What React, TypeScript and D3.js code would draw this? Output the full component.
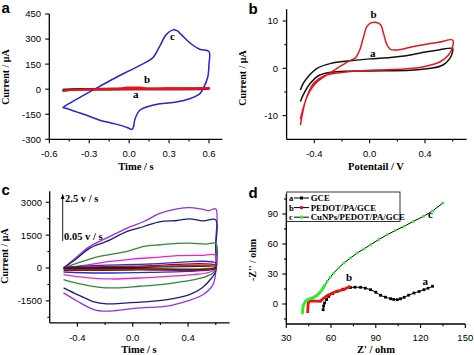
import React from "react";
import * as d3 from "d3";

type P = [number, number];

// Panel a: CV of modified electrodes
const curveA_c: P[] = [
  [-0.5, -110], [-0.42, -72], [-0.35, -40], [-0.26, 0], [-0.12, 61], [0, 110], [0.1, 150], [0.18, 190],
  [0.23, 258], [0.28, 328], [0.33, 355], [0.36, 350], [0.39, 328], [0.455, 278], [0.53, 239], [0.6, 225],
  [0.6, 150], [0.59, 70], [0.555, 2], [0.53, -28], [0.455, -57], [0.355, -77], [0.23, -87], [0.13, -107],
  [0.08, -126], [0.045, -176], [0.03, -232], [0.02, -241], [-0.01, -231], [-0.045, -221], [-0.12, -205],
  [-0.22, -186], [-0.32, -156], [-0.395, -136], [-0.47, -116], [-0.5, -110],
];

// Panel b: CV of GCE (a) and PEDOT/PA/GCE (b)
const curveB_b: P[] = [
  [-0.5, -12], [-0.485, -9.5], [-0.465, -7], [-0.435, -5], [-0.395, -3.3], [-0.33, -1.8], [-0.24, -0.1],
  [-0.18, 1], [-0.13, 1.8], [-0.1, 2.3], [-0.07, 4], [-0.045, 6.5], [-0.02, 8.8], [0.01, 9.6], [0.05, 9.7],
  [0.08, 9.2], [0.1, 7.4], [0.125, 5], [0.15, 4], [0.2, 3.9], [0.3, 4.5], [0.39, 5.0], [0.5, 5.5], [0.6, 6.0],
  [0.6, 4.6], [0.57, 2.8], [0.51, 1.4], [0.39, 0.35], [0.25, -0.15], [0.05, -0.35], [-0.12, -0.6],
  [-0.24, -1.0], [-0.33, -1.6], [-0.4, -3.0], [-0.44, -5.0], [-0.47, -7.5], [-0.49, -9.5], [-0.5, -10.8],
];
const curveB_a: P[] = [
  [-0.5, -4.6], [-0.48, -3.2], [-0.44, -1.6], [-0.38, 0], [-0.28, 1.05], [-0.14, 1.6], [0, 2.0], [0.15, 2.3],
  [0.25, 2.6], [0.39, 3.4], [0.5, 3.9], [0.6, 4.2], [0.6, 3.6], [0.58, 2.1], [0.53, 0.7], [0.44, 0],
  [0.3, -0.4], [0, -0.55], [-0.24, -0.7], [-0.36, -1.4], [-0.43, -3.2], [-0.48, -5.6], [-0.5, -7],
];

// Panel c: scan rates 0.05 - 2.5 V/s
const cv250: P[] = [
  [-0.5, 0], [-0.4, 530], [-0.31, 985], [-0.19, 1364], [-0.04, 1818], [0.08, 2121], [0.2, 2500], [0.32, 2697],
  [0.41, 2758], [0.49, 2697], [0.55, 2621], [0.6, 2697], [0.6, 1200], [0.6, -150], [0.58, -758], [0.51, -1212],
  [0.39, -1515], [0.25, -1742], [0.05, -1818], [-0.12, -1939], [-0.19, -1970], [-0.28, -1894], [-0.4, -1515],
  [-0.5, -1136],
];
const cv200: P[] = [
  [-0.5, 0], [-0.4, 455], [-0.31, 909], [-0.19, 1212], [-0.04, 1667], [0.08, 1894], [0.2, 2121], [0.32, 2167],
  [0.41, 2242], [0.51, 2152], [0.6, 2197], [0.6, 1000], [0.6, -150], [0.57, -455], [0.5, -909], [0.41, -1212],
  [0.25, -1439], [0.08, -1545], [-0.04, -1591], [-0.19, -1636], [-0.28, -1545], [-0.4, -1212], [-0.5, -909],
];
const cv100: P[] = [
  [-0.5, 0], [-0.4, 227], [-0.24, 530], [-0.04, 758], [0.08, 985], [0.2, 1061], [0.32, 1121], [0.41, 1136],
  [0.53, 1091], [0.6, 1121], [0.6, 0], [0.58, -227], [0.5, -455], [0.37, -606], [0.2, -758], [0.05, -833],
  [-0.12, -909], [-0.24, -879], [-0.4, -700], [-0.5, -530],
];
const cv050: P[] = [
  [-0.5, 0], [-0.35, 121], [-0.16, 303], [0, 409], [0.17, 485], [0.32, 561], [0.49, 576], [0.6, 576],
  [0.6, 0], [0.56, -182], [0.44, -303], [0.25, -379], [0.05, -455], [-0.16, -500], [-0.35, -424], [-0.5, -303],
];
const cv020: P[] = [
  [-0.5, 30], [-0.24, 121], [0.125, 182], [0.6, 227], [0.6, 0], [0.49, -121], [0.125, -197], [-0.24, -227],
  [-0.5, -182],
];
const cv010: P[] = [[-0.5, 20], [0, 80], [0.6, 120], [0.6, 0], [0, -90], [-0.5, -110]];
const cv005: P[] = [[-0.5, 10], [0, 45], [0.6, 65], [0.6, 0], [0, -55], [-0.5, -65]];
const cv002: P[] = [[-0.5, 5], [0, 20], [0.6, 30], [0.6, 0], [0, -25], [-0.5, -30]];

// Panel d: Nyquist plots
const eisGCE: P[] = [
  [54.7, -5.7], [55, -2], [55.6, 1], [57, 4.5], [58.5, 7.7], [61, 10.5], [64, 12.7], [68, 14.8], [73, 16.5],
  [76, 16.8], [79.8, 16.7], [83, 15.8], [86.5, 14.3], [90, 11.8], [93.2, 8.7], [96.5, 6.8], [100, 5.3],
  [102, 4.6], [104.4, 4.3], [106.5, 5.2], [109, 6.7], [112, 8.8], [115.6, 11], [119, 12.5], [122.3, 14.3],
  [125, 15.8], [128, 17.7],
];
const eisPEDOT: P[] = [
  [44.3, -9], [44.5, -4], [44.6, -0.7], [45, 2.7], [47, 3], [50, 2.8], [52.9, 2.7], [54, 4.5], [55.2, 6],
  [56.8, 7.8], [58.5, 9.3], [61, 11], [64, 12.7], [66, 13.5], [68.5, 14.3], [70.5, 16], [73, 17.7],
];
const eisCu: P[] = [
  [40.9, -9], [41.2, -3], [41.7, -0.7], [42.8, 2.7], [44, 4], [46.1, 5.3], [48.5, 6.8], [50.6, 8.7],
  [52.5, 11.5], [54, 14.3], [55.7, 18.5], [57.4, 22.7], [59.5, 26.8], [61.8, 31], [65, 36], [68.6, 41],
  [73, 46], [77.5, 51], [82, 55], [86.5, 59.3], [92, 64.5], [97.7, 69.3], [103, 73.5], [109, 77.7],
  [115, 82.5], [122, 87.7], [128, 93], [135, 101],
];
const legendLabels = ["GCE", "PEDOT/PA/GCE", "CuNPs/PEDOT/PA/GCE"];
const legendKeys = ["a", "b", "c"];

const sans = "'Liberation Sans', Arial, sans-serif";
const serif = "'Liberation Serif', 'Times New Roman', serif";

type Lin = d3.ScaleLinear<number, number>;

function Axes(props: {
  x: Lin; y: Lin; xMajor: number[]; xMinor: number[]; yMajor: number[]; yMinor: number[];
  xf: (v: number) => string; yf: (v: number) => string; xLabY: number; yLabX: number;
}) {
  const { x, y, xMajor, xMinor, yMajor, yMinor, xf, yf, xLabY, yLabX } = props;
  const [x0, x1] = x.range();
  const [y0, y1] = y.range();
  return (
    <g>
      <line x1={x0} x2={x1} y1={y0} y2={y0} stroke="#000" strokeWidth={1.3} />
      <line x1={x0} x2={x0} y1={y0} y2={y1} stroke="#000" strokeWidth={1.3} />
      {xMajor.map((v) => (
        <g key={"xm" + v}>
          <line x1={x(v)} x2={x(v)} y1={y0} y2={y0 + 4} stroke="#000" strokeWidth={1.1} />
          <text x={x(v)} y={xLabY} textAnchor="middle" fontFamily={sans} fontSize={9.5}>{xf(v)}</text>
        </g>
      ))}
      {xMinor.map((v) => (
        <line key={"xn" + v} x1={x(v)} x2={x(v)} y1={y0} y2={y0 + 2.3} stroke="#000" strokeWidth={1.1} />
      ))}
      {yMajor.map((v) => (
        <g key={"ym" + v}>
          <line x1={x0} x2={x0 - 4} y1={y(v)} y2={y(v)} stroke="#000" strokeWidth={1.1} />
          <text x={yLabX} y={y(v) + 3.4} textAnchor="end" fontFamily={sans} fontSize={9.5}>{yf(v)}</text>
        </g>
      ))}
      {yMinor.map((v) => (
        <line key={"yn" + v} x1={x0} x2={x0 - 2.3} y1={y(v)} y2={y(v)} stroke="#000" strokeWidth={1.1} />
      ))}
    </g>
  );
}

function path(x: Lin, y: Lin, d: P[]) {
  return d3.line<P>().x((p) => x(p[0])).y((p) => y(p[1])).curve(d3.curveCatmullRom.alpha(0.5))(d) || "";
}

function YTitle({ x, y, text }: { x: number; y: number; text: string }) {
  return (
    <text transform={`translate(${x},${y}) rotate(-90)`} textAnchor="middle" fontFamily={serif}
      fontWeight="bold" fontSize={10}>{text}</text>
  );
}
function XTitle({ x, y, text }: { x: number; y: number; text: string }) {
  return (
    <text x={x} y={y} textAnchor="middle" fontFamily={serif} fontWeight="bold" fontSize={10.5}>{text}</text>
  );
}
function Lbl({ x, y, t }: { x: number; y: number; t: string }) {
  return <text x={x} y={y} fontFamily={serif} fontWeight="bold" fontSize={11}>{t}</text>;
}

export default function App() {
  const f1 = (v: number) => v.toFixed(1);
  const f0 = (v: number) => String(v);

  const xa = d3.scaleLinear().domain([-0.6, 0.7]).range([49.3, 222.3]);
  const ya = d3.scaleLinear().domain([-300, 450]).range([139.3, 14]);
  const xb = d3.scaleLinear().domain([-0.6, 0.7]).range([286.6, 466.5]);
  const yb = d3.scaleLinear().domain([-15, 12.5]).range([139.3, 9.2]);
  const xc = d3.scaleLinear().domain([-0.6, 0.7]).range([49.7, 229.6]);
  const yc = d3.scaleLinear().domain([-2500, 3500]).range([322.8, 191.3]);
  const xd = d3.scaleLinear().domain([30, 150]).range([286.3, 465.3]);
  const yd = d3.scaleLinear().domain([-20, 110]).range([324, 194]);

  const cSeries: [P[], string, number][] = [
    [cv002, "#222222", 1.2],
    [cv005, "#e01a1a", 1.3],
    [cv010, "#8b1010", 1.3],
    [cv020, "#2a2ad8", 1.4],
    [cv050, "#ee22cc", 1.3],
    [cv100, "#2e8b2e", 1.3],
    [cv200, "#1a1a80", 1.3],
    [cv250, "#9a2ee6", 1.3],
  ];

  const lineD = d3.line<P>().x((p) => xd(p[0])).y((p) => yd(p[1]));
  const cuLow = eisCu.filter((p) => p[0] < 56);

  return (
    <svg width={474} height={355} style={{ position: "absolute", left: 0, top: 0, background: "#fff" }}>
      <rect width={474} height={355} fill="#fff" />
      {/* Panel a */}
      <text x={1.5} y={12.5} fontFamily={sans} fontWeight="bold" fontSize={15}>a</text>
      <Axes x={xa} y={ya} xMajor={[-0.6, -0.3, 0, 0.3, 0.6]} xMinor={[-0.45, -0.15, 0.15, 0.45]}
        yMajor={[-300, -150, 0, 150, 300, 450]} yMinor={[]} xf={f1} yf={f0} xLabY={156.7} yLabX={41} />
      <path d={path(xa, ya, curveA_c)} fill="none" stroke="#2424d6" strokeWidth={1.5} />
      <path d={path(xa, ya, curveB_a)} fill="none" stroke="#111" strokeWidth={2.2} />
      <path d={path(xa, ya, curveB_b)} fill="none" stroke="#e8141b" strokeWidth={2.2} />
      <Lbl x={170} y={40} t="c" />
      <Lbl x={144} y={83} t="b" />
      <Lbl x={133} y={98} t="a" />
      <YTitle x={9} y={77} text="Current / μA" />
      <XTitle x={136} y={170} text="Time / s" />

      {/* Panel b */}
      <text x={248.5} y={13.5} fontFamily={sans} fontWeight="bold" fontSize={15}>b</text>
      <Axes x={xb} y={yb} xMajor={[-0.4, 0, 0.4]} xMinor={[-0.2, 0.2, 0.6]}
        yMajor={[-10, 0, 10]} yMinor={[-5, 5]} xf={f1} yf={f0} xLabY={156.7} yLabX={278} />
      <path d={path(xb, yb, curveB_a)} fill="none" stroke="#111" strokeWidth={1.5} />
      <path d={path(xb, yb, curveB_b)} fill="none" stroke="#e8141b" strokeWidth={1.5} />
      <Lbl x={370.5} y={18} t="b" />
      <Lbl x={370} y={57} t="a" />
      <YTitle x={246} y={78} text="Current / μA" />
      <XTitle x={376} y={170} text="Potentail / V" />

      {/* Panel c */}
      <text x={1.5} y={195} fontFamily={sans} fontWeight="bold" fontSize={15}>c</text>
      <Axes x={xc} y={yc} xMajor={[-0.4, 0, 0.4]} xMinor={[-0.2, 0.2, 0.6]}
        yMajor={[-1500, 0, 1500, 3000]} yMinor={[-2250, -750, 750, 2250]} xf={f1} yf={f0} xLabY={341} yLabX={42} />
      {cSeries.slice().reverse().map(([d, c, w], i) => (
        <path key={i} d={path(xc, yc, d)} fill="none" stroke={c} strokeWidth={w} />
      ))}
      <line x1={62.7} x2={62.7} y1={241} y2={198} stroke="#000" strokeWidth={0.9} />
      <path d="M62.7,193.5 L60.8,199 L64.6,199 Z" fill="#000" />
      <text x={65} y={201.7} fontFamily={serif} fontWeight="bold" fontSize={10.5}>2.5 v / s</text>
      <text x={64} y={240} fontFamily={serif} fontWeight="bold" fontSize={10.5}>0.05 v / s</text>
      <YTitle x={8} y={256} text="Current / μA" />
      <XTitle x={139} y={352.5} text="Time / s" />

      {/* Panel d */}
      <text x={248.5} y={198} fontFamily={sans} fontWeight="bold" fontSize={15}>d</text>
      <Axes x={xd} y={yd} xMajor={[30, 60, 90, 120, 150]} xMinor={[45, 75, 105, 135]}
        yMajor={[0, 30, 60, 90]} yMinor={[-15, 15, 45, 75, 105]} xf={f0} yf={f0} xLabY={340.7} yLabX={278} />
      {/* GCE */}
      <path d={lineD(eisGCE) || ""} fill="none" stroke="#000" strokeWidth={1} />
      {eisGCE.map((p, i) => (
        <rect key={"g" + i} x={xd(p[0]) - 1.4} y={yd(p[1]) - 1.4} width={2.8} height={2.8} fill="#000" />
      ))}
      {/* PEDOT */}
      <path d={lineD(eisPEDOT) || ""} fill="none" stroke="#ee1111" strokeWidth={2.8} />
      {/* CuNPs */}
      <path d={lineD(eisCu) || ""} fill="none" stroke="#000" strokeWidth={1} />
      <path d={lineD(cuLow) || ""} fill="none" stroke="#22ee22" strokeWidth={2.8} />
      {eisCu.map((p, i) => (
        <rect key={"c" + i} x={xd(p[0]) - 1.3} y={yd(p[1]) - 1.3} width={2.6} height={2.6} fill="#33ee33" />
      ))}
      <Lbl x={422.5} y={285} t="a" />
      <Lbl x={346} y={280.7} t="b" />
      <Lbl x={428} y={218} t="c" />
      {/* legend */}
      <rect x={286.7} y={192} width={113.3} height={29.5} fill="#fff" stroke="#000" strokeWidth={0.8} />
      {legendLabels.map((t, i) => {
        const ly = 198 + i * 9.6;
        const col = ["#000", "#ee1111", "#33ee33"][i];
        return (
          <g key={t}>
            <text x={289} y={ly + 3} fontFamily={serif} fontWeight="bold" fontSize={8.5}>{legendKeys[i]}</text>
            <line x1={294} x2={309} y1={ly} y2={ly} stroke="#000" strokeWidth={1} />
            <rect x={300} y={ly - 1.5} width={3} height={3} fill={col} />
            <text x={310.7} y={ly + 3} fontFamily={serif} fontWeight="bold" fontSize={8.8}>{t}</text>
          </g>
        );
      })}
      <YTitle x={256} y={260} text="-Z'' / ohm" />
      <XTitle x={376} y={353} text="Z' / ohm" />
    </svg>
  );
}
